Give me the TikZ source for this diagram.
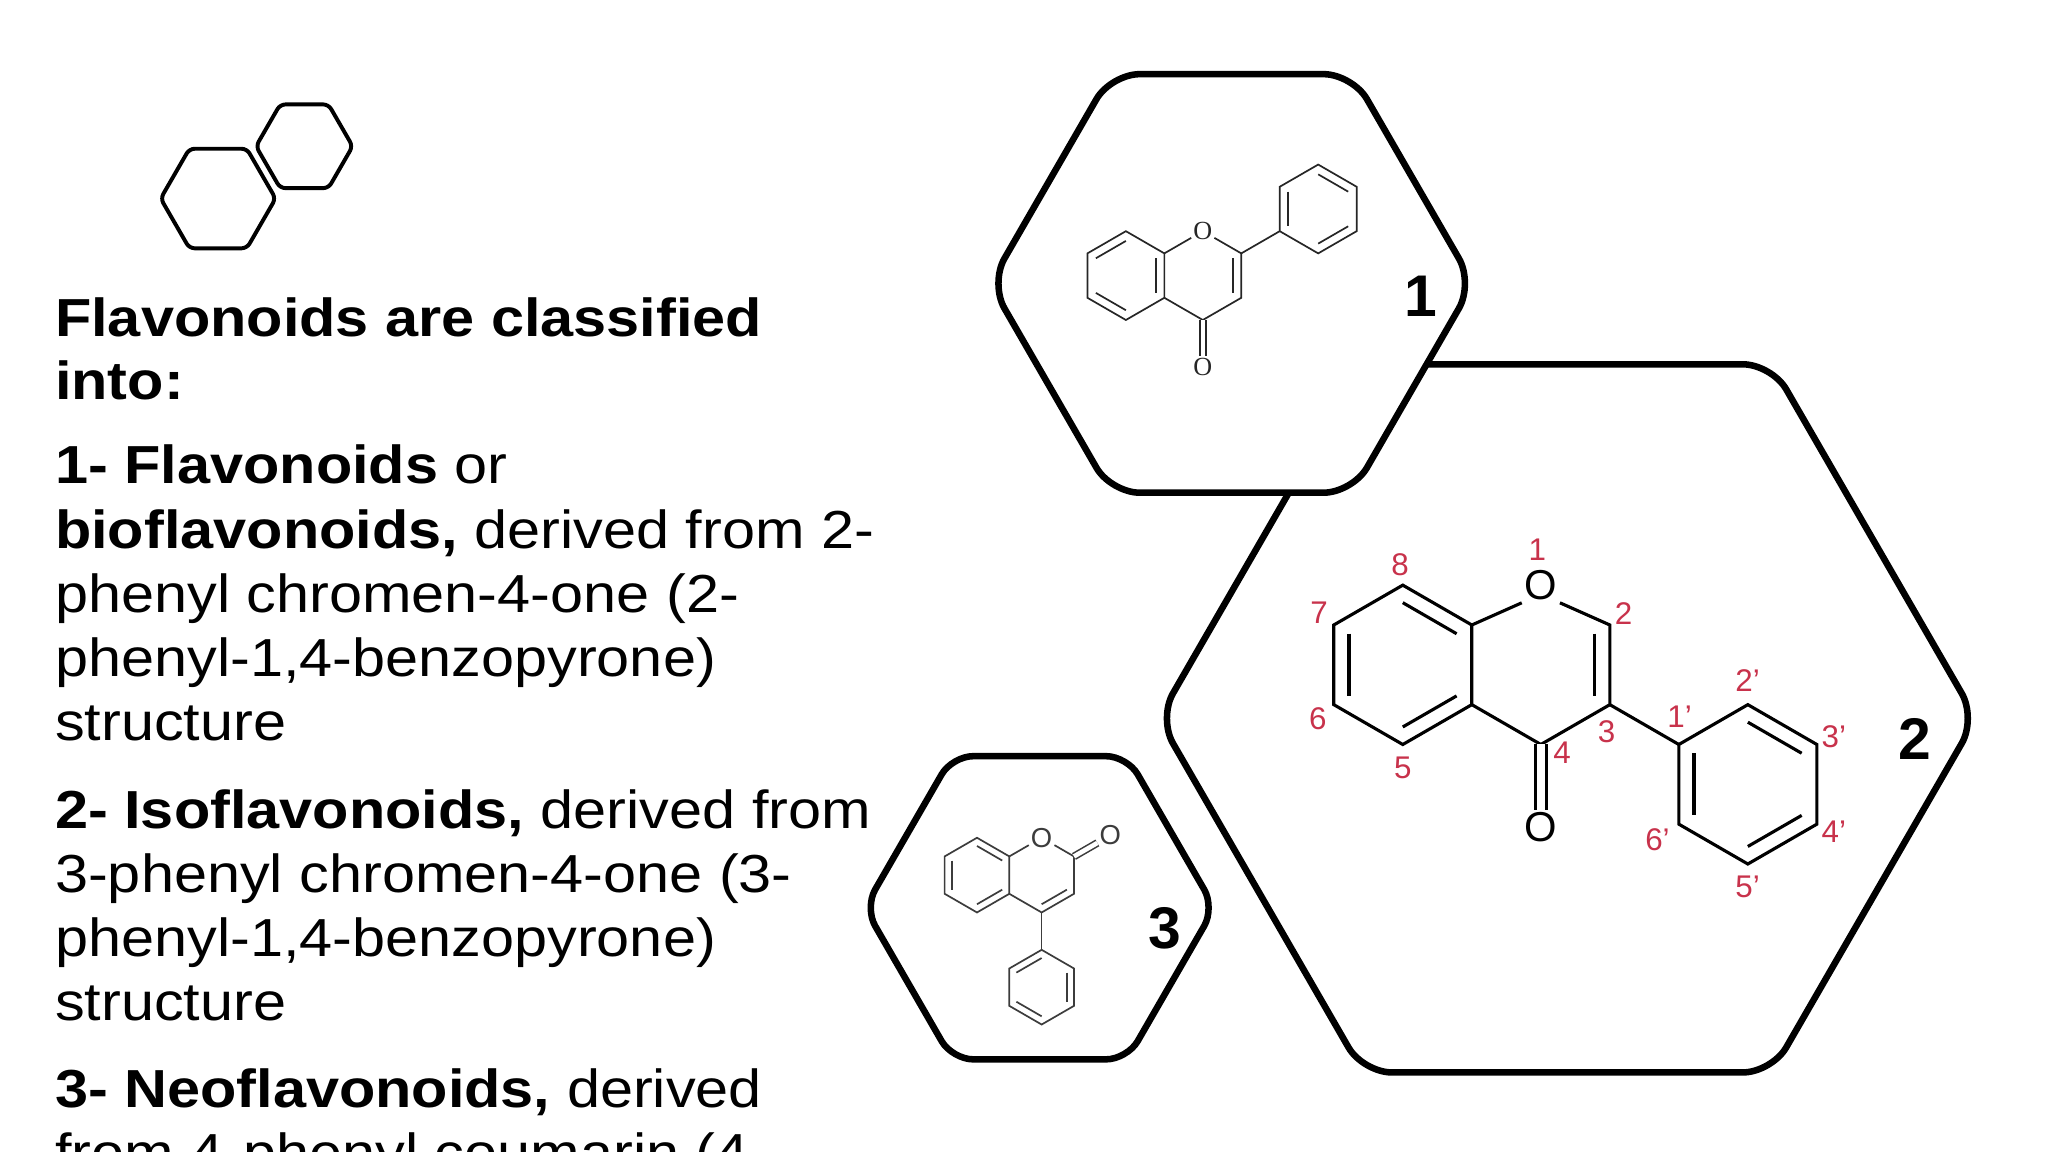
\documentclass[tikz,border=0pt]{standalone}
\usepackage{fontspec}
\setmainfont{Liberation Sans}
\newfontfamily\textfam[FakeStretch=1.11]{Liberation Sans}
\newfontfamily\serifO{Liberation Serif}
\usetikzlibrary{calc}
\definecolor{numred}{RGB}{200,50,75}
\definecolor{molgray}{RGB}{60,60,60}
\newcommand\mkring[3]{%
  \coordinate (#1-t) at ($(#2)+(270:#3)$);
  \coordinate (#1-ur) at ($(#2)+(330:#3)$);
  \coordinate (#1-lr) at ($(#2)+(30:#3)$);
  \coordinate (#1-b) at ($(#2)+(90:#3)$);
  \coordinate (#1-ll) at ($(#2)+(150:#3)$);
  \coordinate (#1-ul) at ($(#2)+(210:#3)$);}
\newcommand\innerbond[3]{\draw ($(#3)!0.78!(#1)$) -- ($(#3)!0.78!(#2)$);}
\tikzset{
  bighex/.style={line width=5pt, rounded corners=22pt, fill=white},
  txt/.style={anchor=base west, inner sep=0pt, font=\textfam\fontsize{41}{49}\selectfont},
  bignum/.style={font=\bfseries\fontsize{45}{45}\selectfont},
  lab/.style={text=numred, font=\fontsize{24}{24}\selectfont, inner sep=0pt},
}
\begin{document}
\begin{tikzpicture}[x=1pt,y=-1pt]
\useasboundingbox (0,0) rectangle (1568,882);
\clip (0,0) rectangle (1568,882);
\fill[white] (0,0) rectangle (1568,882);
% small icon
\draw[line width=3pt, rounded corners=4pt] (233,112) +(0:37) -- +(60:37) -- +(120:37) -- +(180:37) -- +(240:37) -- +(300:37) -- cycle;
\draw[line width=3pt, rounded corners=4pt, fill=white] (167,152) +(0:44) -- +(60:44) -- +(120:44) -- +(180:44) -- +(240:44) -- +(300:44) -- cycle;
% big hexagons
\draw[bighex] (1200,550) +(0:313) -- +(60:313) -- +(120:313) -- +(180:313) -- +(240:313) -- +(300:313) -- cycle;
\draw[bighex] (943,217) +(0:185) -- +(60:185) -- +(120:185) -- +(180:185) -- +(240:185) -- +(300:185) -- cycle;
\draw[bighex, rounded corners=16pt] (796,695) +(0:134) -- +(60:134) -- +(120:134) -- +(180:134) -- +(240:134) -- +(300:134) -- cycle;
\node[bignum] (n1) at (1088,227) {1};
\node[bignum] (n2) at (1466,566) {2};
\node[bignum] (n3) at (892,711) {3};
% text
\node[txt] (t1) at (42,258) {\textbf{Flavonoids are classified}};
\node[txt] (t2) at (42,306) {\textbf{into:}};
\node[txt] (t3) at (42,370) {\textbf{1- Flavonoids} or};
\node[txt] (t4) at (42,420) {\textbf{bioflavonoids,} derived from 2-};
\node[txt] (t5) at (42,469) {phenyl chromen-4-one (2-};
\node[txt] (t6) at (42,518) {phenyl-1,4-benzopyrone)};
\node[txt] (t7) at (42,567) {structure};
\node[txt] (t8) at (42,634) {\textbf{2- Isoflavonoids,} derived from};
\node[txt] (t9) at (42,683) {3-phenyl chromen-4-one (3-};
\node[txt] (t10) at (42,732) {phenyl-1,4-benzopyrone)};
\node[txt] (t11) at (42,781) {structure};
\node[txt] (t12) at (42,848) {\textbf{3- Neoflavonoids,} derived};
\node[txt] (t13) at (42,897) {from 4-phenyl coumarin (4-};
% ---- molecule 2 (isoflavone)
\begin{scope}[line width=2.4pt]
\coordinate (Bc) at (1074,509);
\mkring{B}{Bc}{61}
\coordinate (Pc) at ($(Bc)+(105.7,0)$);
\mkring{P}{Pc}{61}
\coordinate (Q) at ($(P-lr)+(30:61)$);
\coordinate (Hc) at ($(Q)+(30:61)$);
\mkring{H}{Hc}{61}
\node[inner sep=1pt, font=\fontsize{32}{32}\selectfont] (O1) at (P-t) {O};
\node[inner sep=1pt, font=\fontsize{32}{32}\selectfont, anchor=north] (O4) at ($(P-b)+(0,50)$) {O};
\draw (B-t) -- (B-ur) -- (B-lr) -- (B-b) -- (B-ll) -- (B-ul) -- cycle;
\innerbond{B-t}{B-ur}{Bc} \innerbond{B-ul}{B-ll}{Bc} \innerbond{B-b}{B-lr}{Bc}
\draw (P-ul) -- (O1.south west);
\draw (O1.south east) -- (P-ur) -- (P-lr) -- (P-b) -- (P-ll);
\innerbond{P-ur}{P-lr}{Pc}
\draw[double distance=6pt, line width=2.2pt] (P-b) -- (O4.north);
\draw (P-lr) -- (H-ul);
\draw (H-t) -- (H-ur) -- (H-lr) -- (H-b) -- (H-ll) -- (H-ul) -- cycle;
\innerbond{H-ul}{H-ll}{Hc} \innerbond{H-t}{H-ur}{Hc} \innerbond{H-lr}{H-b}{Hc}
\end{scope}
\node[lab] (l1) at (1177,421) {1};
\node[lab] (l2) at (1243,470) {2};
\node[lab] (l3) at (1230,560) {3};
\node[lab] (l4) at (1196,576) {4};
\node[lab] (l5) at (1074,588) {5};
\node[lab] (l6) at (1009,550) {6};
\node[lab] (l7) at (1010,469) {7};
\node[lab] (l8) at (1072,432) {8};
\node[lab] (l1p) at (1286,549) {1'};
\node[lab] (l2p) at (1338,521) {2'};
\node[lab] (l3p) at (1404,564) {3'};
\node[lab] (l4p) at (1404,637) {4'};
\node[lab] (l5p) at (1338,679) {5'};
\node[lab] (l6p) at (1269,643) {6'};
% ---- molecule 1 (flavone)
\begin{scope}[line width=1.3pt, black!85]
\coordinate (bc) at (862,211);
\mkring{b}{bc}{34}
\coordinate (pc) at ($(bc)+(58.9,0)$);
\mkring{p}{pc}{34}
\coordinate (q) at ($(p-ur)+(330:34)$);
\coordinate (hc) at ($(q)+(330:34)$);
\mkring{h}{hc}{34}
\node[inner sep=1pt, font=\serifO\fontsize{20}{20}\selectfont] (o1) at (p-t) {O};
\node[inner sep=1pt, font=\serifO\fontsize{20}{20}\selectfont] (o4) at ($(p-b)+(0,36)$) {O};
\draw (b-t) -- (b-ur) -- (b-lr) -- (b-b) -- (b-ll) -- (b-ul) -- cycle;
\innerbond{b-ul}{b-t}{bc} \innerbond{b-ll}{b-b}{bc} \innerbond{b-ur}{b-lr}{bc}
\draw (p-ul) -- (o1);
\draw (o1) -- (p-ur) -- (p-lr) -- (p-b) -- (p-ll);
\innerbond{p-ur}{p-lr}{pc}
\draw[double distance=3.5pt, line width=1.2pt] (p-b) -- (o4);
\draw (p-ur) -- (h-ll);
\draw (h-t) -- (h-ur) -- (h-lr) -- (h-b) -- (h-ll) -- (h-ul) -- cycle;
\innerbond{h-ul}{h-ll}{hc} \innerbond{h-t}{h-ur}{hc} \innerbond{h-lr}{h-b}{hc}
\end{scope}
% ---- molecule 3 (neoflavone)
\begin{scope}[line width=1.3pt, molgray]
\coordinate (kc) at (748,670);
\mkring{k}{kc}{28.6}
\coordinate (mc) at ($(kc)+(49.5,0)$);
\mkring{m}{mc}{28.6}
\coordinate (nc) at ($(m-b)+(0,57.2)$);
\mkring{n}{nc}{28.6}
\node[inner sep=1pt, font=\fontsize{21}{21}\selectfont] (oo) at (m-t) {O};
\node[inner sep=1pt, font=\fontsize{21}{21}\selectfont] (ox) at ($(m-ur)+(330:32)$) {O};
\draw (k-t) -- (k-ur) -- (k-lr) -- (k-b) -- (k-ll) -- (k-ul) -- cycle;
\innerbond{k-ul}{k-ll}{kc} \innerbond{k-t}{k-ur}{kc} \innerbond{k-b}{k-lr}{kc}
\draw (m-ul) -- (oo);
\draw (oo) -- (m-ur) -- (m-lr) -- (m-b) -- (m-ll);
\innerbond{m-lr}{m-b}{mc}
\draw[double distance=3.5pt, line width=1.2pt] (m-ur) -- (ox);
\draw (m-b) -- (n-t);
\draw (n-t) -- (n-ur) -- (n-lr) -- (n-b) -- (n-ll) -- (n-ul) -- cycle;
\innerbond{n-t}{n-ul}{nc} \innerbond{n-ur}{n-lr}{nc} \innerbond{n-ll}{n-b}{nc}
\end{scope}
\end{tikzpicture}
\end{document}
